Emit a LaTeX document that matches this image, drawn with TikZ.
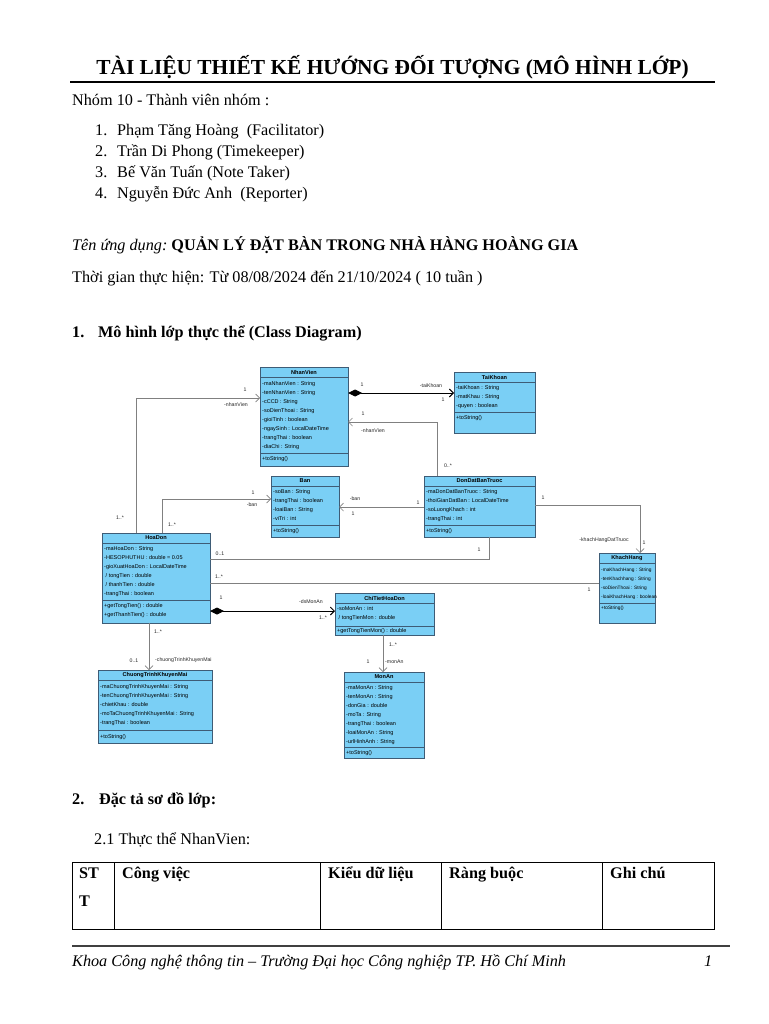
\documentclass[tikz,border=0pt]{standalone}
\usepackage{fontspec}
\setmainfont{Liberation Serif}
\newfontfamily\dgfont{Liberation Sans}
\usetikzlibrary{arrows.meta}
\definecolor{clsfill}{RGB}{122,207,245}
\definecolor{clsborder}{RGB}{62,92,118}
\definecolor{connline}{RGB}{128,128,128}
\tikzset{
 clsbox/.style={draw=clsborder, fill=clsfill, line width=0.6pt, inner sep=0pt, outer sep=0pt},
 clsline/.style={draw=clsborder, line width=0.6pt},
 clstitle/.style={font=\dgfont\fontsize{5.6}{6}\selectfont\bfseries, inner sep=0pt, anchor=center},
 attr/.style={font=\dgfont\fontsize{5.5}{6}\selectfont, inner sep=0pt, anchor=west},
 lbl/.style={font=\dgfont\fontsize{5.2}{6}\selectfont, inner sep=0pt, text=black!85},
 assoc/.style={draw=connline, line width=0.7pt, -{Straight Barb[length=4pt,width=8pt]}},
 plainassoc/.style={draw=connline, line width=0.7pt},
 comp/.style={draw=black, line width=0.9pt, {Diamond[length=14pt,width=7pt]}-{Straight Barb[length=4pt,width=8pt]}},
 body/.style={font=\fontsize{16.2}{19}\selectfont, inner sep=0pt, anchor=base west},
 bodyb/.style={body, font=\fontsize{16.2}{19}\selectfont\bfseries},
 tbl/.style={draw=black, line width=0.9pt},
}
% class box: name, x, y, width, height, title
\newcommand{\clsbox}[6]{%
 \node[clsbox, minimum width=#4pt, minimum height=#5pt, anchor=north west] (#1) at (#2,#3) {};
 \node[clstitle] (#1-t) at (#2+#4/2,#3+5) {#6};
 \draw[clsline] (#2,#3+10) -- (#2+#4,#3+10);
}
% rows: prefix, x, first y, list
\newcommand{\clsrows}[4]{%
 \foreach \atxt [count=\i] in {#4} {\node[attr] (#1\i) at (#2+2,#3+9*\i-9) {\atxt};}
}
\newcommand{\clsdiv}[3]{\draw[clsline] (#1,#3) -- (#1+#2,#3);}
\begin{document}
\begin{tikzpicture}[x=1pt,y=-1pt]
\useasboundingbox (0,0) rectangle (768,1024);
\fill[white] (0,0) rectangle (768,1024);

% ---------- header text ----------
\node[font=\fontsize{21.4}{25}\selectfont\bfseries, inner sep=0pt, anchor=base] (title) at (392.5,75) {TÀI LIỆU THIẾT KẾ HƯỚNG ĐỐI TƯỢNG (MÔ HÌNH LỚP)};
\draw[line width=1.1pt] (70,82) -- (715,82);
\node[body] (group) at (72,106) {Nhóm 10 - Thành viên nhóm :};
\node[body] (n1) at (95,136) {1.};
\node[body] (m1) at (117,136) {Phạm Tăng Hoàng\ \ (Facilitator)};
\node[body] (n2) at (95,157) {2.};
\node[body] (m2) at (117,157) {Trần Di Phong (Timekeeper)};
\node[body] (n3) at (95,178) {3.};
\node[body] (m3) at (117,178) {Bế Văn Tuấn (Note Taker)};
\node[body] (n4) at (95,199) {4.};
\node[body] (m4) at (117,199) {Nguyễn Đức Anh\ \ (Reporter)};
\node[body] (app) at (72,251) {\itshape Tên ứng dụng:\upshape\ \bfseries QUẢN LÝ ĐẶT BÀN TRONG NHÀ HÀNG HOÀNG GIA};
\node[body] (time) at (72,282) {Thời gian thực hiện: Từ 08/08/2024 đến 21/10/2024 ( 10 tuần )};
\node[bodyb] (s1n) at (72,337) {1.};
\node[bodyb] (s1) at (98,337) {Mô hình lớp thực thể (Class Diagram)};

% ---------- classes ----------
\clsbox{nv}{260}{367}{88}{99}{NhanVien}
\clsrows{nva}{260}{384}{-maNhanVien : String,-tenNhanVien : String,-cCCD : String,-soDienThoai : String,-gioiTinh : boolean,-ngaySinh : LocalDateTime,-trangThai : boolean,-diaChi : String}
\clsdiv{260}{88}{453}
\clsrows{nvm}{260}{459}{+toString()}

\clsbox{tk}{454}{372}{81}{61}{TaiKhoan}
\clsrows{tka}{454}{388}{-taiKhoan : String,-matKhau : String,-quyen : boolean}
\clsdiv{454}{81}{412}
\clsrows{tkm}{454}{418}{+toString()}

\clsbox{ban}{271}{476}{68}{61}{Ban}
\clsrows{bana}{271}{492}{-soBan : String,-trangThai : boolean,-loaiBan : String,-viTri : int}
\clsdiv{271}{68}{525}
\clsrows{banm}{271}{531}{+toString()}

\clsbox{ddbt}{424}{476}{111}{61}{DonDatBanTruoc}
\clsrows{ddbta}{424}{492}{-maDonDatBanTruoc : String,-thoiGianDatBan : LocalDateTime,-soLuongKhach : int,-trangThai : int}
\clsdiv{424}{111}{525}
\clsrows{ddbtm}{424}{531}{+toString()}

\clsbox{kh}{599}{553}{56}{70}{KhachHang}
\begin{scope}[attr/.append style={font=\dgfont\fontsize{4.8}{6}\selectfont}]
\clsrows{kha}{599}{570}{-maKhachHang : String,-tenKhachhang : String,-soDienThoai : String,-loaiKhachHang : boolean}
\clsrows{khm}{599}{608}{+toString()}
\end{scope}
\clsdiv{599}{56}{603}

\clsbox{hd}{102}{533}{108}{90}{HoaDon}
\clsrows{hda}{102}{549}{-maHoaDon : String,-HESOPHUTHU : double = 0.05,-gioXuatHoaDon : LocalDateTime,\ / tongTien : double,\ / thanhTien : double,-trangThai : boolean}
\clsdiv{102}{108}{600}
\clsrows{hdm}{102}{606}{+getTongTien() : double,+getThanhTien() : double}

\clsbox{cthd}{335}{593}{99}{42}{ChiTietHoaDon}
\clsrows{cthda}{335}{609}{-soMonAn : int,\ / tongTienMon : double}
\clsdiv{335}{99}{626}
\clsrows{cthdm}{335}{631}{+getTongTienMon() : double}

\clsbox{monan}{344}{672}{80}{86}{MonAn}
\clsrows{monana}{344}{688}{-maMonAn : String,-tenMonAn : String,-donGia : double,-moTa : String,-trangThai : boolean,-loaiMonAn : String,-urlHinhAnh : String}
\clsdiv{344}{80}{747}
\clsrows{monanm}{344}{753}{+toString()}

\clsbox{ctkm}{98}{670}{114}{73}{ChuongTrinhKhuyenMai}
\clsrows{ctkma}{98}{687}{-maChuongTrinhKhuyenMai : String,-tenChuongTrinhKhuyenMai : String,-chietKhau : double,-moTaChuongTrinhKhuyenMai : String,-trangThai : boolean}
\clsdiv{98}{114}{730}
\clsrows{ctkmm}{98}{737}{+toString()}

% ---------- connectors ----------
\coordinate (p1) at (136,398);
\draw[assoc] (hd.north -| p1) |- (nv.west |- p1);
\coordinate (p2) at (162,499);
\draw[assoc] (hd.north -| p2) |- (ban.west |- p2);
\coordinate (p3) at (0,393);
\draw[comp] (nv.east |- p3) -- (tk.west |- p3);
\coordinate (p4) at (437,422);
\draw[assoc] (ddbt.north -| p4) |- (nv.east |- p4);
\coordinate (p5) at (0,507);
\draw[assoc] (ddbt.west |- p5) -- (ban.east |- p5);
\coordinate (p6) at (640,505);
\draw[assoc] (ddbt.east |- p6) -| (kh.north -| p6);
\coordinate (p7) at (489,559);
\draw[plainassoc] (hd.east |- p7) -| (ddbt.south -| p7);
\coordinate (p8) at (0,583);
\draw[plainassoc] (hd.east |- p8) -- (kh.west |- p8);
\coordinate (p9) at (0,611);
\draw[comp] (hd.east |- p9) -- (cthd.west |- p9);
\coordinate (p10) at (149,0);
\draw[assoc] (hd.south -| p10) -- (ctkm.north -| p10);
\coordinate (p11) at (383,0);
\draw[assoc] (cthd.south -| p11) -- (monan.north -| p11);

% ---------- connector labels ----------
\node[lbl] (l1a) at (245,390) {1};
\node[lbl] (l1b) at (236,405) {-nhanVien};
\node[lbl] (l1c) at (120,518) {1..*};
\node[lbl] (l2a) at (253,493) {1};
\node[lbl] (l2b) at (252,505) {-ban};
\node[lbl] (l2c) at (172,525) {1..*};
\node[lbl] (l3a) at (362,385) {1};
\node[lbl] (l3b) at (431,386) {-taiKhoan};
\node[lbl] (l3c) at (443,400) {1};
\node[lbl] (l4a) at (363,414) {1};
\node[lbl] (l4b) at (373,431) {-nhanVien};
\node[lbl] (l4c) at (448,466) {0..*};
\node[lbl] (l5a) at (355,499) {-ban};
\node[lbl] (l5b) at (353,514) {1};
\node[lbl] (l5c) at (418,503) {1};
\node[lbl] (l6a) at (543,498) {1};
\node[lbl] (l6b) at (604,540) {-khachHangDatTruoc};
\node[lbl] (l6c) at (644,543) {1};
\node[lbl] (l7a) at (220,554) {0..1};
\node[lbl] (l7b) at (479,550) {1};
\node[lbl] (l8a) at (219,577) {1..*};
\node[lbl] (l8b) at (589,590) {1};
\node[lbl] (l9a) at (221,598) {1};
\node[lbl] (l9b) at (311,602) {-dsMonAn};
\node[lbl] (l9c) at (323,618) {1..*};
\node[lbl] (l10a) at (158,632) {1..*};
\node[lbl] (l10b) at (134,661) {0..1};
\node[lbl, anchor=west] (l10c) at (155,660) {-chuongTrinhKhuyenMai};
\node[lbl] (l11a) at (393,645) {1..*};
\node[lbl] (l11b) at (368,662) {1};
\node[lbl, anchor=west] (l11c) at (385,662) {-monAn};

% ---------- section 2 ----------
\node[bodyb] (s2n) at (72,804) {2.};
\node[bodyb] (s2) at (99,804) {Đặc tả sơ đồ lớp:};
\node[body] (s21) at (94,844) {2.1 Thực thể NhanVien:};
\draw[tbl] (72,862) rectangle (714,929);
\foreach \cx in {114,320,441,602} {\draw[tbl] (\cx,862) -- (\cx,929);}
\node[bodyb] (h1a) at (79,878) {ST};
\node[bodyb] (h1b) at (79,906) {T};
\node[bodyb] (h2) at (122,878) {Công việc};
\node[bodyb] (h3) at (328,878) {Kiểu dữ liệu};
\node[bodyb] (h4) at (449,878) {Ràng buộc};
\node[bodyb] (h5) at (610,878) {Ghi chú};

% ---------- footer ----------
\draw[line width=1.6pt, black!75] (72,946) -- (730,946);
\node[body, font=\fontsize{16.2}{19}\selectfont\itshape] (foot) at (72,966) {Khoa Công nghệ thông tin – Trường Đại học Công nghiệp TP. Hồ Chí Minh};
\node[body, font=\fontsize{16.2}{19}\selectfont\itshape] (page) at (704,966) {1};
\end{tikzpicture}
\end{document}
